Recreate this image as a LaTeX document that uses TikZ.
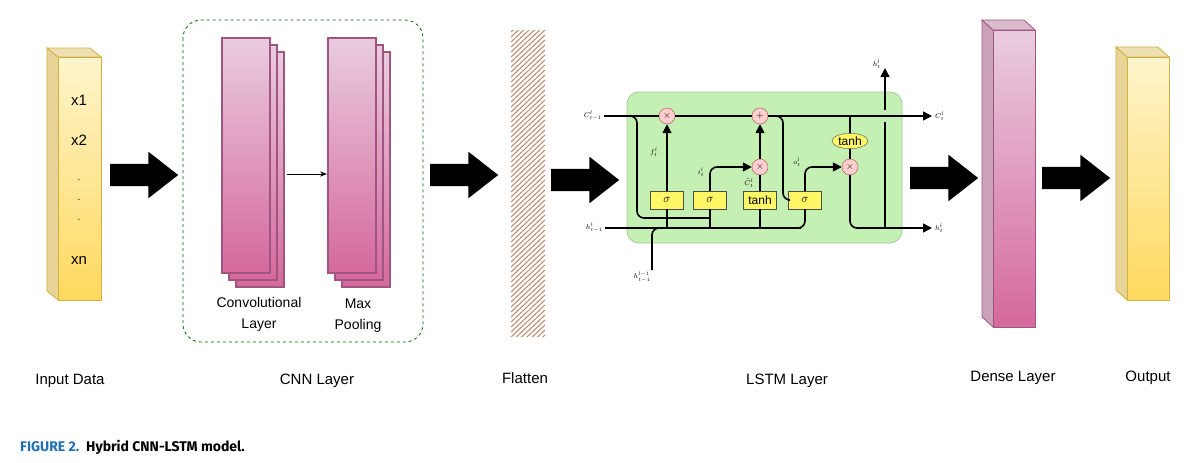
\documentclass[tikz,border=0pt]{standalone}
\usepackage{fontspec}
\setmainfont{Liberation Sans}
\newfontfamily\capfont{Fira Sans}
\usetikzlibrary{shapes.arrows,shapes.geometric,arrows.meta}
\definecolor{pinkT}{HTML}{E9CCDF}
\definecolor{pinkB}{HTML}{D5699C}
\definecolor{pinkD}{HTML}{A05580}
\definecolor{yelT}{HTML}{FFF4CC}
\definecolor{yelB}{HTML}{FFD95E}
\definecolor{yelD}{HTML}{D4B040}
\definecolor{lgreen}{HTML}{C4F0B4}
\definecolor{gbord}{HTML}{A8C8A0}
\definecolor{figblue}{HTML}{1F6FB5}
\definecolor{hatch}{HTML}{B98A6E}
\newcommand\mybar[9]{%
 \fill[#9!55!white] (#1,#2)--(#1-#5,#2-#6)--(#1-#5,#4-#6)--(#1,#4)--cycle;
 \draw[#9,line width=0.8] (#1,#2)--(#1-#5,#2-#6)--(#1-#5,#4-#6)--(#1,#4);
 \fill[#9!40!white,draw=#9,line width=0.8] (#1,#2)--(#1-#5,#2-#6)--(#3-#5,#2-#6)--(#3,#2)--cycle;
 \shade[top color=#7,bottom color=#8,draw=#9,line width=0.8] (#1,#2) rectangle (#3,#4);}
\tikzset{
 x=1pt,y=-1pt,
 big/.style={single arrow,fill=black,draw=none,minimum width=46,minimum height=68,single arrow head extend=12,single arrow tip angle=76,inner sep=11},
 lbl/.style={font=\fontsize{15}{18}\selectfont},
 sheet/.style={top color=pinkT,bottom color=pinkB,draw=pinkD,line width=1.2},
 op/.style={circle,fill=pink!70!red!40,draw=red!40!gray,minimum size=16,inner sep=0,font=\normalsize},
 gate/.style={rectangle,fill=yellow!60,draw=black!70,minimum width=33,minimum height=18,inner sep=0,font=\fontsize{12}{14}\selectfont},
 ln/.style={line width=1.6,rounded corners=7},
 ar/.style={ln,-{Triangle[length=9,width=9]}},
 sm/.style={font=\scriptsize\bfseries\itshape,inner sep=1}
}
\begin{document}
\begin{tikzpicture}
\useasboundingbox (0,0) rectangle (1192,463);
% input
\mybar{58}{57}{101}{300}{11}{9}{yelT}{yelB}{yelD}
\node[lbl] (x1) at (79,100) {x1};
\node[lbl] (x2) at (79,140) {x2};
\node (d1) at (79,180) {.};
\node (d2) at (79,200) {.};
\node (d3) at (79,220) {.};
\node[lbl] (xn) at (79,260) {xn};
% cnn
\draw[dashed,green!40!black,line width=0.8,rounded corners=18] (183,20) rectangle (423,342);
\foreach \o in {14,7,0}{\shade[sheet] (222+\o,38+\o) rectangle (270+\o,273+\o);}
\foreach \o in {14,7,0}{\shade[sheet] (328+\o,38+\o) rectangle (376+\o,273+\o);}
\coordinate (ca) at (287,174); \coordinate (cb) at (327,174);
\draw[-{Stealth[length=7]},line width=0.8] (ca)--(cb);
\node[lbl,align=center,font=\fontsize{14}{21}\selectfont] (cl) at (259,314) {Convolutional\\Layer};
\node[lbl,align=center,font=\fontsize{14}{21}\selectfont] (mp) at (358,316) {Max\\Pooling};
% flatten
\begin{scope}
\clip (511,30) rectangle (545,336);
\foreach \i in {-40,-35,...,320}{\draw[hatch,line width=1] (511,62+\i)--(545,30+\i);}
\end{scope}
% arrows
\node[big] (a1) at (137,175) {};
\node[big] (a2) at (457,175) {};
\node[big] (a3) at (578,180) {};
\node[big] (a4) at (937,178) {};
\node[big] (a5) at (1069,178) {};
% lstm
\draw[fill=lgreen,draw=gbord,rounded corners=12,line width=0.8] (627,92) rectangle (902,243);
\node[op] (m1) at (667,116) {$\times$};
\node[op] (p1) at (760,116) {$+$};
\node[op] (m2) at (760,167) {$\times$};
\node[op] (m3) at (850,167) {$\times$};
\node[ellipse,fill=yellow!60,draw=black!70,inner sep=1,font=\fontsize{12}{14}\selectfont] (th) at (850,141) {tanh};
\node[gate] (s1) at (667,200) {$\sigma$};
\node[gate] (s2) at (710,200) {$\sigma$};
\node[gate] (t1) at (760,200) {tanh};
\node[gate] (s3) at (805,200) {$\sigma$};
\coordinate (cin) at (604,116); \coordinate (cout) at (932,116);
\coordinate (hin) at (605,228); \coordinate (hout) at (932,228);
\coordinate (htop) at (885,68); \coordinate (hl) at (652,270);
\draw[ln] (cin)--(m1)--(p1); \draw[ar] (p1)--(cout);
\draw[ln] (627,116)--(637,116)--(637,218)--(710,218);
\draw[ln] (hin)--(794,228)--(805,228)--(s3);
\draw[ln] (hl)--(652,228)--(662,228);
\draw[ar] (s1)--(m1);
\draw[ln] (667,228)--(s1); \draw[ln] (710,228)--(s2); \draw[ln] (760,228)--(t1);
\draw[ar] (s2.north)--(710,167)--(m2);
\draw[ln] (t1)--(m2); \draw[ar] (m2)--(p1);
\draw[ln] (p1)--(783,116)--(783,200)--(s3.west);
\draw[ar] (s3.north)--(805,167)--(m3);
\draw[ln] (850,116)--(th); \draw[ln] (th)--(m3);
\draw[ar] (m3)--(850,228)--(hout);
\draw[ln] (885,228)--(885,122); \draw[ar] (885,110)--(htop);
\node[sm,left] (lc) at (603,116) {$C^{l}_{t-1}$};
\node[sm,right] (lc2) at (934,116) {$C^{l}_{t}$};
\node[sm,left] (lh) at (604,228) {$h^{l}_{t-1}$};
\node[sm,right] (lh2) at (934,228) {$h^{l}_{t}$};
\node[sm,left] (lht) at (882,64) {$h^{l}_{t}$};
\node[sm] (lhl) at (642,277) {$h^{l-1}_{t-1}$};
\node[sm] (lf) at (654,152) {$f^{l}_{t}$};
\node[sm] (li) at (701,172) {$i^{l}_{t}$};
\node[sm] (lct) at (749,183) {$\tilde C^{l}_{t}$};
\node[sm] (lo) at (797,162) {$o^{l}_{t}$};
% dense, output
\mybar{993}{30}{1035}{327}{11}{10}{pinkT}{pinkB}{pinkD}
\mybar{1127}{57}{1169}{300}{11}{10}{yelT}{yelB}{yelD}
% labels
\node[lbl] (L1) at (70,381) {Input Data};
\node[lbl] (L2) at (317,381) {CNN Layer};
\node[lbl] (L3) at (525,378) {Flatten};
\node[lbl] (L4) at (787,381) {LSTM Layer};
\node[lbl] (L5) at (1013,378) {Dense Layer};
\node[lbl] (L6) at (1148,378) {Output};
\node[anchor=west,font=\capfont\bfseries\fontsize{14}{16}\selectfont,inner sep=0] (cap) at (20,447) {\textcolor{figblue}{FIGURE 2.}\enspace Hybrid CNN-LSTM model.};
\end{tikzpicture}
\end{document}
